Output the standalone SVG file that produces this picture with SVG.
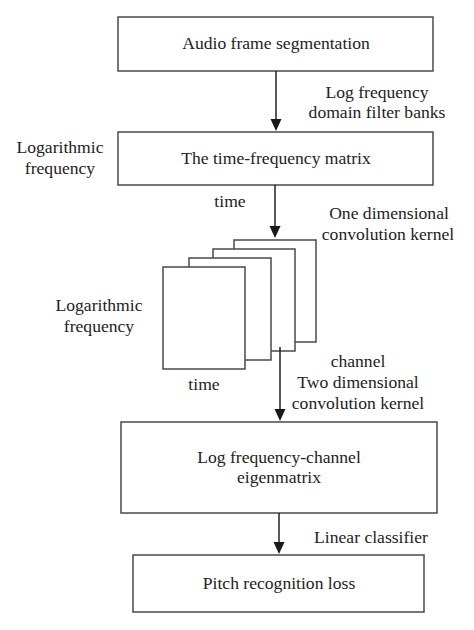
<svg xmlns="http://www.w3.org/2000/svg" width="474" height="630" viewBox="0 0 474 630">
<defs>
<style>
.box{fill:#fff;stroke:#4a4a4a;stroke-width:1.5}
.t{font-family:"Liberation Serif","Times New Roman",serif;font-size:17.6px;fill:#222;text-anchor:middle}
.c{stroke:#222;stroke-width:1.5;fill:none}
.ar{fill:#1a1a1a}
</style>
</defs>
<rect width="474" height="630" fill="#fff"/>
<g id="node-audio">
<rect class="box" x="118" y="17" width="315" height="54"/>
<text class="t" x="276" y="49">Audio frame segmentation</text>
</g>
<g id="node-tfmatrix">
<rect class="box" x="118" y="132" width="315" height="53"/>
<text class="t" x="276" y="164">The time-frequency matrix</text>
</g>
<g id="node-stack">
<rect class="box" x="234" y="240" width="82" height="102"/>
<rect class="box" x="213" y="249" width="82" height="102"/>
<rect class="box" x="189" y="258" width="82" height="102"/>
<rect class="box" x="163" y="267" width="82" height="102"/>
</g>
<g id="node-eigen">
<rect class="box" x="121" y="422" width="316" height="91"/>
<text class="t" x="279" y="463">Log frequency-channel</text>
<text class="t" x="279" y="483">eigenmatrix</text>
</g>
<g id="node-loss">
<rect class="box" x="133" y="555" width="291" height="57"/>
<text class="t" x="279" y="589">Pitch recognition loss</text>
</g>
<g id="connectors">
<line class="c" x1="276" y1="71" x2="276" y2="120"/>
<path class="ar" d="M270.5,119 L281.5,119 L276,131 Z"/>
<line class="c" x1="275" y1="185" x2="275" y2="227"/>
<path class="ar" d="M269.5,226 L280.5,226 L275,238 Z"/>
<line class="c" x1="280" y1="347" x2="280" y2="410"/>
<path class="ar" d="M274.5,409 L285.5,409 L280,421 Z"/>
<line class="c" x1="279" y1="513" x2="279" y2="543"/>
<path class="ar" d="M273.5,542 L284.5,542 L279,554 Z"/>
</g>
<g id="labels">
<text class="t" x="377" y="98">Log frequency</text>
<text class="t" x="377" y="118">domain filter banks</text>
<text class="t" x="60" y="153">Logarithmic</text>
<text class="t" x="60" y="174">frequency</text>
<text class="t" x="230" y="207">time</text>
<text class="t" x="389" y="219">One dimensional</text>
<text class="t" x="388" y="240">convolution kernel</text>
<text class="t" x="99" y="311">Logarithmic</text>
<text class="t" x="99" y="332">frequency</text>
<text class="t" x="204" y="390">time</text>
<text class="t" x="358" y="367">channel</text>
<text class="t" x="358" y="388">Two dimensional</text>
<text class="t" x="358" y="409">convolution kernel</text>
<text class="t" x="371" y="543">Linear classifier</text>
</g>
</svg>
